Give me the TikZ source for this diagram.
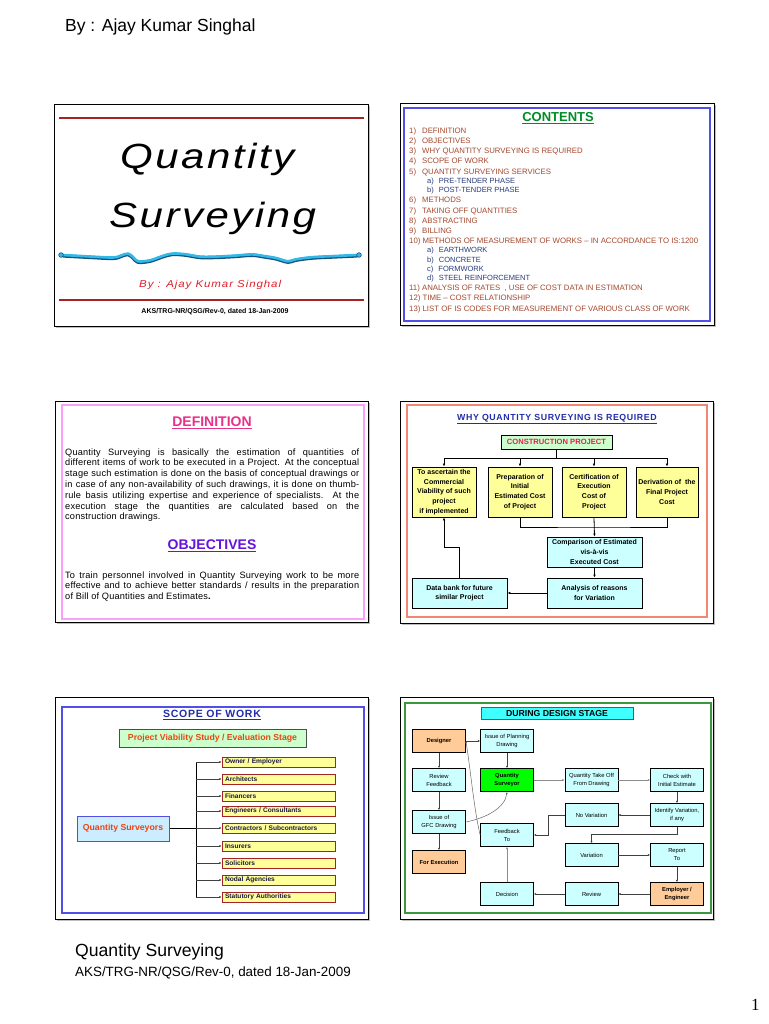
\documentclass[tikz,border=0pt]{standalone}
\usepackage{fontspec}
\setmainfont{Liberation Sans}
\newfontfamily\wideit[LetterSpace=6]{Liberation Sans}
\newfontfamily\byit[LetterSpace=8]{Liberation Sans}
\newfontfamily\spc[LetterSpace=7]{Liberation Sans}
\newfontfamily\bodyf[LetterSpace=2]{Liberation Sans}
\newfontfamily\serifnum{Liberation Serif}
\usetikzlibrary{arrows.meta}
\newcommand{\fsz}[2]{\fontsize{#1}{#2}\selectfont}
\definecolor{darkred}{RGB}{165,35,35}
\definecolor{redtxt}{RGB}{225,30,40}
\definecolor{brownc}{RGB}{165,72,45}
\definecolor{subblue}{RGB}{40,60,125}
\definecolor{greenc}{RGB}{0,140,40}
\definecolor{pinkc}{RGB}{230,50,140}
\definecolor{pinkbd}{RGB}{250,160,250}
\definecolor{purplec}{RGB}{100,20,220}
\definecolor{titleblue}{RGB}{35,45,170}
\definecolor{bluebd}{RGB}{80,80,230}
\definecolor{salmon}{RGB}{240,135,115}
\definecolor{greenbd}{RGB}{60,150,60}
\definecolor{ltyellow}{RGB}{255,255,153}
\definecolor{ltcyan}{RGB}{204,255,255}
\definecolor{ltblue}{RGB}{204,236,255}
\definecolor{ltgreen}{RGB}{204,255,204}
\definecolor{orangebox}{RGB}{255,204,153}
\definecolor{orangered}{RGB}{230,70,20}
\definecolor{cpred}{RGB}{225,30,90}
\definecolor{cyanbox}{RGB}{64,255,255}
\definecolor{wave}{RGB}{50,185,230}
\definecolor{wavedk}{RGB}{20,80,130}
\definecolor{navytxt}{RGB}{25,25,70}
\definecolor{shadow}{RGB}{190,190,190}
\begin{document}
\begin{tikzpicture}[x=1pt,y=-1pt,
  every node/.style={inner sep=0pt},
  ar/.style={-{Latex[length=3pt,width=2.6pt]}},
  sar/.style={-{Latex[length=2.2pt,width=2pt]}},
  frame/.style={draw=black,line width=0.9pt,fill=white},
  cline/.style={anchor=base west,text=brownc,font=\fsz{7.8}{8}},
  sline/.style={anchor=base west,text=subblue,font=\fsz{7.5}{8}},
  ybox/.style={draw=black,line width=0.8pt,fill=ltyellow,minimum height=50pt,align=center,font=\bfseries\fsz{7}{9.75}},
  cbox/.style={draw=black,line width=0.8pt,fill=ltcyan,minimum width=95pt,minimum height=30pt,align=center,font=\bfseries\fsz{7}{9.6}},
  rbox/.style={draw=darkred,line width=0.7pt,fill=ltyellow,minimum width=113pt,minimum height=10pt,text width=107pt,inner xsep=3pt,align=left,text=navytxt,font=\bfseries\fsz{6.6}{7}},
  dbox/.style={draw=black,line width=0.7pt,fill=ltcyan,minimum width=53pt,minimum height=23pt,align=center,font=\fsz{5.8}{8}},
  para/.style={anchor=base west,font=\bodyf\fsz{9.2}{10.8}}
]
\useasboundingbox (0,0) rectangle (768,1024);
\fill[white] (0,0) rectangle (768,1024);

% ---------- header / footer ----------
\node[anchor=base west,font=\fsz{17.5}{20}] (hdr) at (65,31.7) {By : Ajay Kumar Singhal};
\node[anchor=base west,font=\fsz{17.6}{20}] (ft1) at (75,956) {Quantity Surveying};
\node[anchor=base west,font=\fsz{13.4}{15}] (ft2) at (75,976) {AKS/TRG-NR/QSG/Rev-0, dated 18-Jan-2009};
\node[anchor=base west,font=\serifnum\fsz{17}{18}] (pg) at (751,1010) {1};

% ---------- slide 1 ----------
\fill[shadow] (56,106) rectangle (370,328);
\draw[frame] (54,104) rectangle (368,326);
\draw[darkred,line width=1.3pt] (59,118) -- (364,118);
\draw[darkred,line width=1.3pt] (59,300) -- (364,300);
\node[anchor=base west,font=\wideit\itshape\fsz{35}{40}] (q1) at (120,169) {\scalebox{1.2}[1]{Quantity}};
\node[anchor=base west,font=\wideit\itshape\fsz{35}{40}] (q2) at (109,227) {\scalebox{1.2}[1]{Surveying}};
\begin{scope}[shift={(0,0.9)}]
\draw[wavedk,line width=3.4pt,line cap=round,line join=round] plot[smooth,tension=0.6] coordinates {(63,255) (90,256.5) (113,257.5) (121,255.5) (128,253.6) (133,257) (138,261.3) (150,260.3) (162,256.2) (172,253.6) (185,254.2) (200,256.6) (215,256.6) (235,255.6) (252,254.4) (264,256) (276,258) (288,261.3) (296,259.3) (312,257.2) (335,256) (357,255)};
\end{scope}
\draw[wave,line width=2.6pt,line cap=round,line join=round] plot[smooth,tension=0.6] coordinates {(63,255) (90,256.5) (113,257.5) (121,255.5) (128,253.6) (133,257) (138,261.3) (150,260.3) (162,256.2) (172,253.6) (185,254.2) (200,256.6) (215,256.6) (235,255.6) (252,254.4) (264,256) (276,258) (288,261.3) (296,259.3) (312,257.2) (335,256) (357,255)};
\draw[wavedk,fill=wave,line width=0.6pt] (61,255) circle (2.3pt);
\draw[wavedk,fill=wave,line width=0.6pt] (359,255) circle (2.3pt);
\node[anchor=base west,text=redtxt,font=\byit\itshape\fsz{10}{12}] (by1) at (139,287) {\scalebox{1.15}[1]{By : Ajay Kumar Singhal}};
\node[font=\bfseries\fsz{7}{8}] (aks1) at (215,312) {AKS/TRG-NR/QSG/Rev-0, dated 18-Jan-2009};

% ---------- slide 2: contents ----------
\fill[shadow] (402,105) rectangle (716,327);
\draw[frame] (400,103) rectangle (714,325);
\draw[bluebd,line width=1.2pt] (404,108) rectangle (710,321);
\node[text=greenc,font=\bfseries\fsz{13}{14}] (ct) at (558,118) {\underline{CONTENTS}};
\node[cline] (c1) at (409,133.7) {1)\hspace{6pt}DEFINITION};
\node[cline] (c2) at (409,143.7) {2)\hspace{6pt}OBJECTIVES};
\node[cline] (c3) at (409,153.4) {3)\hspace{6pt}WHY QUANTITY SURVEYING IS REQUIRED};
\node[cline] (c4) at (409,163.7) {4)\hspace{6pt}SCOPE OF WORK};
\node[cline] (c5) at (409,174.4) {5)\hspace{6pt}QUANTITY SURVEYING SERVICES};
\node[sline] (c5a) at (427,183.7) {a)\hspace{5pt}PRE-TENDER PHASE};
\node[sline] (c5b) at (427,192.4) {b)\hspace{5pt}POST-TENDER PHASE};
\node[cline] (c6) at (409,202.7) {6)\hspace{6pt}METHODS};
\node[cline] (c7) at (409,213.4) {7)\hspace{6pt}TAKING OFF QUANTITIES};
\node[cline] (c8) at (409,223.4) {8)\hspace{6pt}ABSTRACTING};
\node[cline] (c9) at (409,233.4) {9)\hspace{6pt}BILLING};
\node[cline] (c10) at (409,243.7) {10) METHODS OF MEASUREMENT OF WORKS -- IN ACCORDANCE TO IS:1200};
\node[sline] (c10a) at (427,252.7) {a)\hspace{5pt}EARTHWORK};
\node[sline] (c10b) at (427,262.4) {b)\hspace{5pt}CONCRETE};
\node[sline] (c10c) at (427,271.4) {c)\hspace{5pt}FORMWORK};
\node[sline] (c10d) at (427,280.4) {d)\hspace{5pt}STEEL REINFORCEMENT};
\node[cline] (c11) at (409,290.7) {11) ANALYSIS OF RATES \ , USE OF COST DATA IN ESTIMATION};
\node[cline] (c12) at (409,300.7) {12) TIME -- COST RELATIONSHIP};
\node[cline] (c13) at (409,311.4) {13) LIST OF IS CODES FOR MEASUREMENT OF VARIOUS CLASS OF WORK};

% ---------- slide 3: definition ----------
\fill[shadow] (57,403) rectangle (370,624);
\draw[frame] (55,401) rectangle (368,622);
\draw[pinkbd,line width=1.2pt] (62,405) rectangle (364,619);
\node[text=pinkc,font=\bfseries\fsz{14}{16}] (dt) at (212,423) {\underline{DEFINITION}};
\node[para] (d1) at (65,455) {\makebox[294pt][s]{Quantity Surveying is basically the estimation of quantities of}};
\node[para] (d2) at (65,465.8) {\makebox[294pt][s]{different items of work to be executed in a Project. At the conceptual}};
\node[para] (d3) at (65,476.6) {\makebox[294pt][s]{stage such estimation is done on the basis of conceptual drawings or}};
\node[para] (d4) at (65,487.4) {\makebox[294pt][s]{in case of any non-availability of such drawings, it is done on thumb-}};
\node[para] (d5) at (65,498.2) {\makebox[294pt][s]{rule basis utilizing expertise and experience of specialists. At the}};
\node[para] (d6) at (65,509) {\makebox[294pt][s]{execution stage the quantities are calculated based on the}};
\node[para] (d7) at (65,519.8) {construction drawings.};
\node[text=purplec,font=\bfseries\fsz{14}{16}] (ot) at (212,546) {\underline{OBJECTIVES}};
\node[para] (o1) at (65,578) {\makebox[294pt][s]{To train personnel involved in Quantity Surveying work to be more}};
\node[para] (o2) at (65,588.8) {\makebox[294pt][s]{effective and to achieve better standards / results in the preparation}};
\node[para] (o3) at (65,599.6) {of Bill of Quantities and Estimates\textbf{.}};

% ---------- slide 4: why QS ----------
\fill[shadow] (402,403) rectangle (715,625);
\draw[frame] (400,401) rectangle (713,623);
\draw[salmon,line width=1.5pt] (407,405) rectangle (707,617);
\node[text=titleblue,font=\spc\bfseries\fsz{8.8}{10}] (wt) at (557,419) {\underline{WHY QUANTITY SURVEYING IS REQUIRED}};
\node[draw=black,line width=1pt,fill=ltgreen,minimum width=111pt,minimum height=14pt,text=cpred,font=\bfseries\fsz{7.6}{8}] (cp) at (556.5,442) {CONSTRUCTION PROJECT};
\node[ybox,minimum width=64pt] (b1) at (444,492) {To ascertain the\\Commercial\\Viability of such\\project\\if implemented};
\node[ybox,minimum width=64pt] (b2) at (520,492) {Preparation of\\Initial\\Estimated Cost\\of Project};
\node[ybox,minimum width=64pt] (b3) at (594,492) {Certification of\\Execution\\Cost of\\Project};
\node[ybox,minimum width=62pt] (b4) at (667,492) {Derivation of \ the\\Final Project\\Cost};
\node[cbox] (cmp) at (594.5,552) {Comparison of Estimated\\vis-à-vis\\Executed Cost};
\node[cbox] (an) at (594.5,593) {Analysis of reasons\\for Variation};
\node[cbox] (db) at (459.5,593) {Data bank for future\\similar Project};
\coordinate (bus) at (556.5,458);
\coordinate (join) at (594,527);
\coordinate (back) at (444,547);
\draw[line width=0.8pt] (cp.south) -- (bus);
\draw[line width=0.8pt,ar] (bus) -| (b1.north);
\draw[line width=0.8pt,ar] (bus) -| (b4.north);
\draw[line width=0.8pt,ar] (bus -| b2.north) -- (b2.north);
\draw[line width=0.8pt,ar] (bus -| b3.north) -- (b3.north);
\draw[line width=0.8pt] (b2.south) |- (join) -| (b4.south);
\draw[line width=0.8pt,ar] (b3.south) -- (cmp.north);
\draw[line width=0.8pt,ar] (cmp.south) -- (an.north);
\draw[line width=0.8pt,ar] (an.west) -- (db.east);
\draw[line width=0.9pt,ar] (db.north) |- (back) -- (b1.south);

% ---------- slide 5: scope of work ----------
\fill[shadow] (57,699) rectangle (370,921);
\draw[frame] (55,697) rectangle (368,919);
\draw[bluebd,line width=1.2pt] (62,707) rectangle (364,913);
\node[text=titleblue,font=\spc\bfseries\fsz{10.5}{12}] (st) at (212,715) {\underline{SCOPE OF WORK}};
\node[draw=black!70,line width=1pt,fill=ltgreen,minimum width=187pt,minimum height=18pt,text=orangered,font=\bfseries\fsz{8.7}{10}] (pv) at (212.5,738) {Project Viability Study / Evaluation Stage};
\node[draw=bluebd,line width=1pt,fill=ltblue,minimum width=92pt,minimum height=25pt,text=orangered,font=\bfseries\fsz{8.7}{10}] (qs) at (123,828.5) {Quantity Surveyors};
\node[rbox] (r1) at (278.5,762) {Owner / Employer};
\node[rbox] (r2) at (278.5,779) {Architects};
\node[rbox] (r3) at (278.5,796) {Financers};
\node[rbox] (r4) at (278.5,811) {Engineers / Consultants};
\node[rbox] (r5) at (278.5,828) {Contractors / Subcontractors};
\node[rbox] (r6) at (278.5,846) {Insurers};
\node[rbox] (r7) at (278.5,863) {Solicitors};
\node[rbox] (r8) at (278.5,880) {Nodal Agencies};
\node[rbox] (r9) at (278.5,897) {Statutory Authorities};
\coordinate (sp) at (196,828.5);
\draw[line width=0.8pt] (qs.east) -- (sp);
\draw[line width=0.8pt] (sp |- r1.west) -- (sp |- r9.west);
\foreach \r in {r1,r2,r3,r4,r5,r6,r7,r8,r9}{
  \draw[line width=0.6pt,black!75,sar] (sp |- \r.west) -- (\r.west);
}

% ---------- slide 6: design stage ----------
\fill[shadow] (402,699) rectangle (715,921);
\draw[frame] (400,697) rectangle (713,919);
\draw[greenbd,line width=1.2pt] (405,703) rectangle (711,913);
\node[draw=redtxt,line width=0.8pt,fill=cyanbox,minimum width=152pt,minimum height=12pt,font=\bfseries\fsz{8.7}{10}] (ds) at (557,713) {DURING DESIGN STAGE};
\node[dbox,fill=orangebox,font=\bfseries\fsz{5.8}{8}] (des) at (439,741) {Designer};
\node[dbox] (plan) at (507,741) {Issue of Planning\\Drawing};
\node[dbox] (rev) at (439,780) {Review\\Feedback};
\node[dbox,fill=green,font=\bfseries\fsz{5.8}{8}] (qsv) at (507,780) {Quantity\\Surveyor};
\node[dbox] (qto) at (591.5,780) {Quantity Take Off\\From Drawing};
\node[dbox] (chk) at (677,780) {Check with\\Initial Estimate};
\node[dbox] (gfc) at (439,822) {Issue of\\GFC Drawing};
\node[dbox] (nov) at (591.5,815) {No Variation};
\node[dbox] (idv) at (677,815) {Identify Variation,\\if any};
\node[dbox] (fb) at (507,835) {Feedback\\To};
\node[dbox,fill=orangebox,font=\bfseries\fsz{5.8}{8}] (exe) at (439,862) {For Execution};
\node[dbox] (var) at (591.5,855) {Variation};
\node[dbox] (rep) at (677,855) {Report\\To};
\node[dbox] (dec) at (507,894) {Decision};
\node[dbox] (rvw) at (591.5,894) {Review};
\node[dbox,fill=orangebox,font=\bfseries\fsz{5.8}{8}] (emp) at (677,894) {Employer /\\Engineer};
\begin{scope}[line width=0.6pt,draw=black!75]
\draw[sar] (des.east) -- (plan.west);
\draw[sar] (plan.south) -- (qsv.north);
\draw[sar] (des.south) -- (rev.north);
\draw[sar] (rev.south) -- (gfc.north);
\draw[sar] (gfc.south) -- (exe.north);
\draw[sar,black!45] (qsv.east) -- (qto.west);
\draw[sar,black!45] (qto.east) -- (chk.west);
\draw[sar] (chk.south) -- (idv.north);
\draw[sar] (idv.west) -- (nov.east);
\draw[sar] (nov.west) -- ++(-16,0) |- (fb.east);
\draw[sar] (idv.south) -- ++(0,7) -| (var.north);
\draw[sar] (var.east) -- (rep.west);
\draw[sar] (rep.south) -- (emp.north);
\draw[sar] (emp.west) -- (rvw.east);
\draw[sar] (rvw.west) -- (dec.east);
\draw[sar,black!45] (dec.north) -- (fb.south);
\draw[sar,black!60,line width=0.5pt] (gfc.east) .. controls (486,818) and (505,808) .. (qsv.south);
\draw[sar,black!60,line width=0.5pt] (fb.west) .. controls (474,810) and (470,765) .. (des.east);
\end{scope}
\end{tikzpicture}
\end{document}
